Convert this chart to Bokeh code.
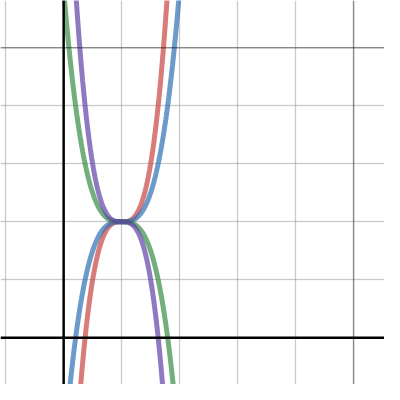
import numpy as np

from bokeh.plotting import figure
from bokeh.models import Range1d, Span, Grid, FixedTicker
from bokeh.embed import file_html
from bokeh.resources import INLINE

# four cubics through the point (1, 2): y = 2 + k * (x - 1)^3
names = ["red", "blue", "green", "purple"]
colors = ["#c74440", "#2d70b3", "#388c46", "#6042a6"]
slopes = [8, 4, -4, -8]
center_x = 1
center_y = 2

grid_ticks = [-1, 1, 2, 3, 4, 6]
major_ticks = [5]

p = figure(width=384, height=384, output_backend="svg", toolbar_location=None,
           x_range=Range1d(-1.089, 5.533), y_range=Range1d(-0.806, 5.816),
           x_axis_location=None, y_axis_location=None, min_border=0)
p.outline_line_color = None
p.background_fill_color = "white"

# light grid lines every unit
p.add_layout(Grid(dimension=0, ticker=FixedTicker(ticks=grid_ticks),
                  grid_line_color="#000000", grid_line_alpha=0.12, grid_line_width=1.5))
p.add_layout(Grid(dimension=1, ticker=FixedTicker(ticks=grid_ticks),
                  grid_line_color="#000000", grid_line_alpha=0.12, grid_line_width=1.5))

# darker major lines
for t in major_ticks:
    p.add_layout(Span(location=t, dimension="height", line_color="#000000",
                      line_alpha=0.4, line_width=1.5))
    p.add_layout(Span(location=t, dimension="width", line_color="#000000",
                      line_alpha=0.4, line_width=1.5))

# axes
p.add_layout(Span(location=0, dimension="height", line_color="black", line_width=2.5))
p.add_layout(Span(location=0, dimension="width", line_color="black", line_width=2.5))

xs = np.linspace(-1.2, 3.2, 600)
for name, c, k in zip(names, colors, slopes):
    ys = center_y + k * (xs - center_x) ** 3
    p.line(xs, ys, line_color=c, line_alpha=0.7, line_width=5)

open("out.html", "w").write(file_html(p, INLINE))
